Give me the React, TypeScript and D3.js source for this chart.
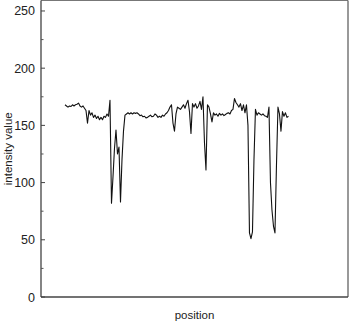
import React from "react";
import * as d3 from "d3";

const intensity: number[] = [
  168, 167, 166, 167, 166.5, 168, 167, 168, 168.5, 169.5,
  167, 166, 167, 165, 163, 152, 163, 159, 161, 157,
  159, 156, 158, 155, 157, 155, 158, 157, 160, 158,
  172, 82, 105, 130, 146, 125, 131, 83, 120, 145,
  159, 160, 161, 160, 161, 160, 161, 160.5, 161, 160,
  158.5, 159, 157.5, 158, 156.5, 157, 158, 159, 157.5, 158,
  160, 159, 157, 158, 157, 159, 158, 160, 161, 163,
  166, 168, 152, 145, 160, 166, 165, 164, 166, 168,
  165, 169, 172, 162, 143, 169, 166, 169, 165, 167,
  171, 164, 175, 135, 111, 168, 166, 160, 153, 161,
  159, 160, 158, 160.5, 159, 160, 158.5, 159.5, 160.5, 161,
  160, 163, 164, 173.5, 170, 168, 166, 169, 163, 168,
  161, 168, 150, 56, 51, 57, 120, 164, 159, 161,
  160, 159, 160, 158.5, 158, 157, 166, 100, 76, 62,
  56, 115, 166, 160, 145, 162, 158, 161, 157, 158,
];
const positionStart = 0;
const yMajorTicks = [0, 50, 100, 150, 200, 250];
const yMinorTicks = [25, 75, 125, 175, 225];
const yLabel = "intensity value";
const xLabel = "position";

const W = 350;
const H = 324;
const left = 41;
const right = 348;
const top = 0.5;
const bottom = 297;

export default function App() {
  const n = intensity.length;
  const x = d3
    .scaleLinear()
    .domain([positionStart - 16, positionStart + 188.7])
    .range([left, right]);
  const y = d3.scaleLinear().domain([0, 259.6]).range([bottom, 0]);
  const line = d3
    .line<number>()
    .x((_, i) => x(positionStart + i))
    .y((d) => y(d));
  const font = "'Liberation Sans', Arial, Helvetica, sans-serif";
  return (
    <svg
      width={W}
      height={H}
      style={{ position: "absolute", left: 0, top: 0, background: "#fff" }}
      fontFamily={font}
    >
      <rect x={0} y={0} width={W} height={H} fill="#fff" />
      {/* frame */}
      <line x1={left} x2={right} y1={top} y2={top} stroke="#777" strokeWidth={1} />
      <line x1={right} x2={right} y1={top} y2={bottom} stroke="#555" strokeWidth={1.2} />
      <line x1={left} x2={right} y1={bottom} y2={bottom} stroke="#444" strokeWidth={1.3} />
      <line x1={left} x2={left} y1={top} y2={bottom} stroke="#333" strokeWidth={1.2} />
      {yMajorTicks.map((t) => (
        <g key={"M" + t}>
          <line x1={left} x2={left + 4} y1={y(t)} y2={y(t)} stroke="#444" strokeWidth={1} />
          <text
            x={left - 6}
            y={y(t)}
            dy="0.36em"
            textAnchor="end"
            fontSize={12.5}
            fill="#222"
          >
            {t}
          </text>
        </g>
      ))}
      {yMinorTicks.map((t) => (
        <line key={"m" + t} x1={left} x2={left + 2.5} y1={y(t)} y2={y(t)} stroke="#555" strokeWidth={1} />
      ))}
      <text
        transform={`translate(12,${(top + bottom) / 2}) rotate(-90)`}
        textAnchor="middle"
        fontSize={11.5}
        fill="#222"
      >
        {yLabel}
      </text>
      <text x={(left + right) / 2} y={319} textAnchor="middle" fontSize={11.5} fill="#222">
        {xLabel}
      </text>
      <path d={line(intensity) || ""} fill="none" stroke="#111" strokeWidth={1.1} strokeLinejoin="round" />
    </svg>
  );
}
